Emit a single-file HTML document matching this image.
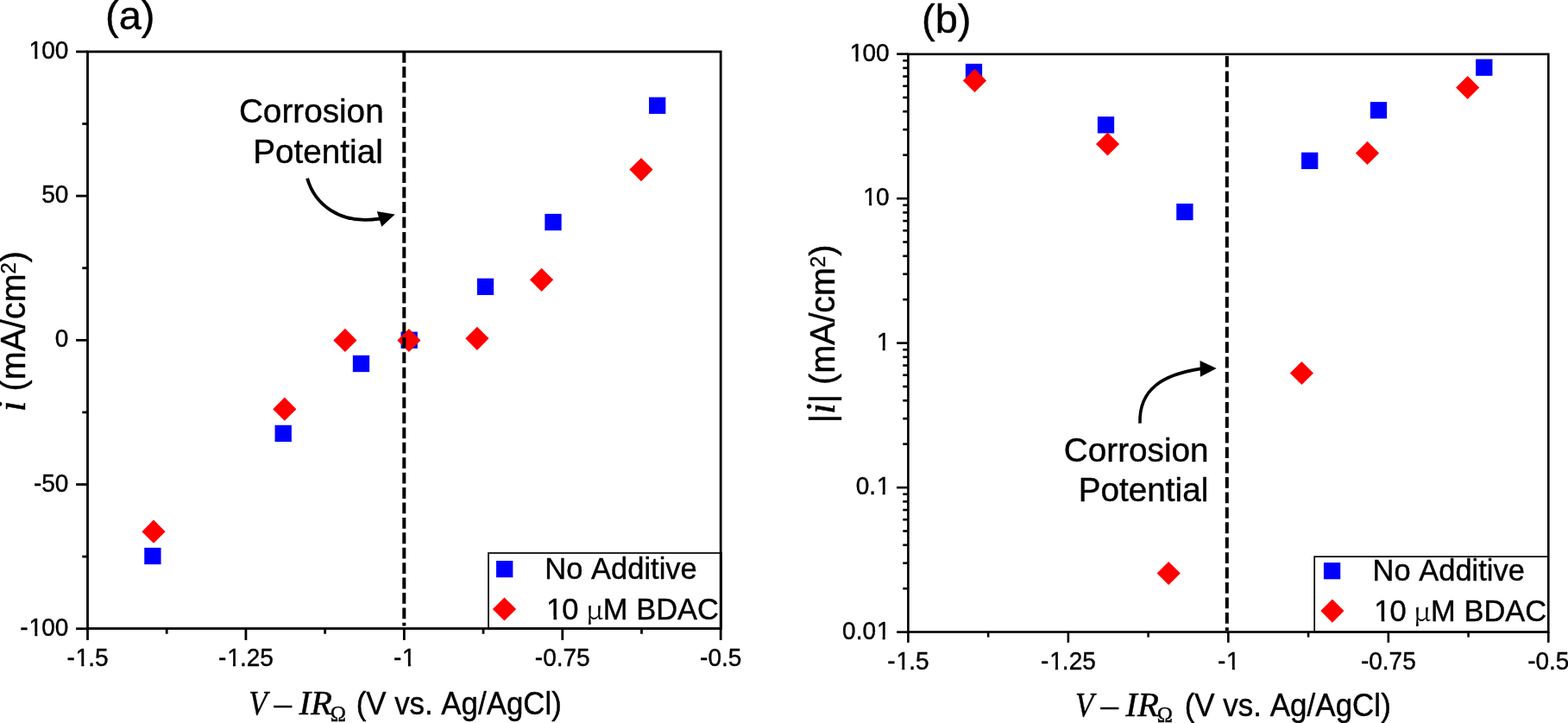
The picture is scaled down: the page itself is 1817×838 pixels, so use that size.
<!DOCTYPE html>
<html><head><meta charset="utf-8"><title>Corrosion potential plots</title><style>html,body{margin:0;padding:0;background:#fff;overflow:hidden}svg{display:block}</style></head><body>
<svg width="1817" height="838" viewBox="0 0 1817 838" style="font-kerning:none">
<style>text{stroke:#000;stroke-width:0.4;stroke-linejoin:round}</style>
<defs><clipPath id="k1" clipPathUnits="userSpaceOnUse"><path clip-rule="evenodd" d="M-400 -400H2200V400H-400Z M2.19 -3.98H9.50V1.5H2.19Z M13.04 -3.98H20.07V1.5H13.04Z"/></clipPath><clipPath id="k2" clipPathUnits="userSpaceOnUse"><path clip-rule="evenodd" d="M-400 -400H2200V400H-400Z M1.50 -3.49H7.66V1.5H1.50Z M10.63 -3.49H16.57V1.5H10.63Z"/></clipPath><clipPath id="k3" clipPathUnits="userSpaceOnUse"><path clip-rule="evenodd" d="M-400 -400H2200V400H-400Z M10.82 -3.49H16.98V1.5H10.82Z M19.96 -3.49H25.90V1.5H19.96Z"/></clipPath><clipPath id="k4" clipPathUnits="userSpaceOnUse"><path clip-rule="evenodd" d="M-400 -400H2200V400H-400Z M10.82 -3.49H16.98V1.5H10.82Z M19.96 -3.49H25.90V1.5H19.96Z"/></clipPath><clipPath id="k5" clipPathUnits="userSpaceOnUse"><path clip-rule="evenodd" d="M-400 -400H2200V400H-400Z M10.82 -3.49H16.98V1.5H10.82Z M19.96 -3.49H25.90V1.5H19.96Z"/></clipPath><clipPath id="k6" clipPathUnits="userSpaceOnUse"><path clip-rule="evenodd" d="M-400 -400H2200V400H-400Z M10.82 -3.49H16.98V1.5H10.82Z M19.96 -3.49H25.90V1.5H19.96Z"/></clipPath><clipPath id="k7" clipPathUnits="userSpaceOnUse"><path clip-rule="evenodd" d="M-400 -400H2200V400H-400Z M2.19 -3.98H9.50V1.5H2.19Z M13.04 -3.98H20.07V1.5H13.04Z"/></clipPath><clipPath id="k8" clipPathUnits="userSpaceOnUse"><path clip-rule="evenodd" d="M-400 -400H2200V400H-400Z M1.50 -3.49H7.66V1.5H1.50Z M10.63 -3.49H16.57V1.5H10.63Z"/></clipPath><clipPath id="k9" clipPathUnits="userSpaceOnUse"><path clip-rule="evenodd" d="M-400 -400H2200V400H-400Z M1.50 -3.49H7.66V1.5H1.50Z M10.63 -3.49H16.57V1.5H10.63Z"/></clipPath><clipPath id="k10" clipPathUnits="userSpaceOnUse"><path clip-rule="evenodd" d="M-400 -400H2200V400H-400Z M1.50 -3.49H7.66V1.5H1.50Z M10.63 -3.49H16.57V1.5H10.63Z"/></clipPath><clipPath id="k11" clipPathUnits="userSpaceOnUse"><path clip-rule="evenodd" d="M-400 -400H2200V400H-400Z M24.85 -3.49H31.01V1.5H24.85Z M33.98 -3.49H39.92V1.5H33.98Z"/></clipPath><clipPath id="k12" clipPathUnits="userSpaceOnUse"><path clip-rule="evenodd" d="M-400 -400H2200V400H-400Z M40.42 -3.49H46.58V1.5H40.42Z M49.56 -3.49H55.50V1.5H49.56Z"/></clipPath><clipPath id="k13" clipPathUnits="userSpaceOnUse"><path clip-rule="evenodd" d="M-400 -400H2200V400H-400Z M10.82 -3.49H16.98V1.5H10.82Z M19.96 -3.49H25.90V1.5H19.96Z"/></clipPath><clipPath id="k14" clipPathUnits="userSpaceOnUse"><path clip-rule="evenodd" d="M-400 -400H2200V400H-400Z M10.82 -3.49H16.98V1.5H10.82Z M19.96 -3.49H25.90V1.5H19.96Z"/></clipPath><clipPath id="k15" clipPathUnits="userSpaceOnUse"><path clip-rule="evenodd" d="M-400 -400H2200V400H-400Z M10.82 -3.49H16.98V1.5H10.82Z M19.96 -3.49H25.90V1.5H19.96Z"/></clipPath></defs>
<rect width="1817" height="838" fill="#fff"/>
<rect x="167.25" y="634.85" width="19.3" height="19.3" fill="#0000ff"/>
<rect x="318.55" y="492.75" width="19.3" height="19.3" fill="#0000ff"/>
<rect x="408.85" y="411.85" width="19.3" height="19.3" fill="#0000ff"/>
<rect x="464.55" y="384.55" width="19.3" height="19.3" fill="#0000ff"/>
<rect x="552.85" y="322.65" width="19.3" height="19.3" fill="#0000ff"/>
<rect x="631.35" y="247.85" width="19.3" height="19.3" fill="#0000ff"/>
<rect x="752.05" y="112.65" width="19.3" height="19.3" fill="#0000ff"/>
<path d="M178.00 602.60L191.60 616.20L178.00 629.80L164.40 616.20Z" fill="#ff0000"/>
<path d="M329.80 460.60L343.40 474.20L329.80 487.80L316.20 474.20Z" fill="#ff0000"/>
<path d="M399.90 380.80L413.50 394.40L399.90 408.00L386.30 394.40Z" fill="#ff0000"/>
<path d="M473.90 380.90L487.50 394.50L473.90 408.10L460.30 394.50Z" fill="#ff0000"/>
<path d="M552.90 378.70L566.50 392.30L552.90 405.90L539.30 392.30Z" fill="#ff0000"/>
<path d="M627.60 310.70L641.20 324.30L627.60 337.90L614.00 324.30Z" fill="#ff0000"/>
<path d="M743.00 183.00L756.60 196.60L743.00 210.20L729.40 196.60Z" fill="#ff0000"/>
<rect x="566.0" y="641.0" width="270.0" height="87.5" fill="#fff" stroke="#000" stroke-width="1.7"/>
<rect x="575.05" y="649.95" width="19.3" height="19.3" fill="#0000ff"/>
<path d="M584.50 692.40L598.10 706.00L584.50 719.60L570.90 706.00Z" fill="#ff0000"/>
<text transform="translate(631.37 670.80) scale(1 1.035)" font-family="'Liberation Sans', Arial, Helvetica, sans-serif" font-size="34.5">No Additive</text>
<text transform="translate(632.04 717.6) scale(1 1.035)" font-family="'Liberation Sans', Arial, Helvetica, sans-serif" font-size="34.5" clip-path="url(#k1)" dx="1.07 -1.07">10 </text>
<text transform="translate(678.66 717.6) scale(1.05 1)" font-family="'Noto Serif CJK SC', 'Liberation Serif', 'Times New Roman', Times, serif" font-size="31.5" style="stroke:none">&#956;</text>
<text transform="translate(698.87 717.6) scale(1 1.035)" font-family="'Liberation Sans', Arial, Helvetica, sans-serif" font-size="34.5">M BDAC</text>
<rect x="101.50" y="59.90" width="733.70" height="668.60" fill="none" stroke="#000" stroke-width="2.8"/>
<line x1="101.50" y1="728.50" x2="101.50" y2="741.90" stroke="#000" stroke-width="2.8"/>
<line x1="284.93" y1="728.50" x2="284.93" y2="741.90" stroke="#000" stroke-width="2.8"/>
<line x1="468.35" y1="728.50" x2="468.35" y2="741.90" stroke="#000" stroke-width="2.8"/>
<line x1="651.78" y1="728.50" x2="651.78" y2="741.90" stroke="#000" stroke-width="2.8"/>
<line x1="835.20" y1="728.50" x2="835.20" y2="741.90" stroke="#000" stroke-width="2.8"/>
<line x1="193.21" y1="728.50" x2="193.21" y2="734.70" stroke="#000" stroke-width="2.8"/>
<line x1="376.64" y1="728.50" x2="376.64" y2="734.70" stroke="#000" stroke-width="2.8"/>
<line x1="560.06" y1="728.50" x2="560.06" y2="734.70" stroke="#000" stroke-width="2.8"/>
<line x1="743.49" y1="728.50" x2="743.49" y2="734.70" stroke="#000" stroke-width="2.8"/>
<line x1="101.50" y1="59.90" x2="88.10" y2="59.90" stroke="#000" stroke-width="2.8"/>
<line x1="101.50" y1="227.10" x2="88.10" y2="227.10" stroke="#000" stroke-width="2.8"/>
<line x1="101.50" y1="394.30" x2="88.10" y2="394.30" stroke="#000" stroke-width="2.8"/>
<line x1="101.50" y1="561.50" x2="88.10" y2="561.50" stroke="#000" stroke-width="2.8"/>
<line x1="101.50" y1="728.70" x2="88.10" y2="728.70" stroke="#000" stroke-width="2.8"/>
<line x1="101.50" y1="143.50" x2="95.30" y2="143.50" stroke="#000" stroke-width="2.8"/>
<line x1="101.50" y1="310.70" x2="95.30" y2="310.70" stroke="#000" stroke-width="2.8"/>
<line x1="101.50" y1="477.90" x2="95.30" y2="477.90" stroke="#000" stroke-width="2.8"/>
<line x1="101.50" y1="645.10" x2="95.30" y2="645.10" stroke="#000" stroke-width="2.8"/>
<line x1="468.3" y1="59.90" x2="468.3" y2="725.6" stroke="#000" stroke-width="4" stroke-dasharray="12.8 4.62"/>
<text transform="translate(32.68 68.00) scale(1 1.035)" font-family="'Liberation Sans', Arial, Helvetica, sans-serif" font-size="28" clip-path="url(#k2)" dx="0.87 -0.87 0">100</text>
<text transform="translate(48.26 235.20) scale(1 1.035)" font-family="'Liberation Sans', Arial, Helvetica, sans-serif" font-size="28">50</text>
<text transform="translate(63.83 402.40) scale(1 1.035)" font-family="'Liberation Sans', Arial, Helvetica, sans-serif" font-size="28">0</text>
<text transform="translate(38.93 569.60) scale(1 1.035)" font-family="'Liberation Sans', Arial, Helvetica, sans-serif" font-size="28">-50</text>
<text transform="translate(23.36 736.80) scale(1 1.035)" font-family="'Liberation Sans', Arial, Helvetica, sans-serif" font-size="28" clip-path="url(#k3)" dx="0 0.87 -0.87 0">-100</text>
<text transform="translate(77.38 772.20) scale(1 1.035)" font-family="'Liberation Sans', Arial, Helvetica, sans-serif" font-size="28" clip-path="url(#k4)" dx="0 0.87 -0.87 0">-1.5</text>
<text transform="translate(253.01 772.20) scale(1 1.035)" font-family="'Liberation Sans', Arial, Helvetica, sans-serif" font-size="28" clip-path="url(#k5)" dx="0 0.87 -0.87 0 0">-1.25</text>
<text transform="translate(455.90 772.20) scale(1 1.035)" font-family="'Liberation Sans', Arial, Helvetica, sans-serif" font-size="28" clip-path="url(#k6)" dx="0 0.87">-1</text>
<text transform="translate(619.86 772.20) scale(1 1.035)" font-family="'Liberation Sans', Arial, Helvetica, sans-serif" font-size="28">-0.75</text>
<text transform="translate(811.08 772.20) scale(1 1.035)" font-family="'Liberation Sans', Arial, Helvetica, sans-serif" font-size="28">-0.5</text>
<text x="122.0" y="34.2" font-family="'Liberation Sans', Arial, Helvetica, sans-serif" font-size="47">(a)</text>
<text transform="translate(276.93 142.20) scale(1 1.02)" font-family="'Liberation Sans', Arial, Helvetica, sans-serif" font-size="38.7">Corrosion</text>
<text transform="translate(293.23 188.60) scale(1 1.02)" font-family="'Liberation Sans', Arial, Helvetica, sans-serif" font-size="38.7">Potential</text>
<path d="M356.1 206.8 C364.1 234.9, 392 261.3, 440 253.5" fill="none" stroke="#000" stroke-width="3.8"/>
<path d="M436.8 245.0 L457.7 248.4 L442.3 262.7 Z" fill="#000"/>
<text transform="translate(288.17 828.3) scale(0.86 1)" font-family="'Liberation Serif', 'Times New Roman', Times, serif" font-size="40.8" font-style="italic">V</text>
<text y="828.3" font-family="'Liberation Serif', 'Times New Roman', Times, serif" font-size="40.8"><tspan x="317.48">&#8211;</tspan><tspan x="346.46" font-style="italic">IR</tspan><tspan x="382.73" y="835.8" font-size="24.5">&#937;</tspan></text>
<text transform="translate(412.64 828.3) scale(1 1.035)" font-family="'Liberation Sans', Arial, Helvetica, sans-serif" font-size="34.85">(V vs. Ag/AgCl)</text>
<g transform="translate(29.40 477.16) rotate(-90) scale(1 1.035)">
<text x="0" y="0"><tspan font-family="'Liberation Serif', 'Times New Roman', Times, serif" font-style="italic" font-size="46">i</tspan><tspan font-family="'Liberation Sans', Arial, Helvetica, sans-serif" font-size="39.5"> (mA/cm</tspan><tspan font-family="'Liberation Sans', Arial, Helvetica, sans-serif" font-size="23.7" dy="-10.8">2</tspan><tspan font-family="'Liberation Sans', Arial, Helvetica, sans-serif" font-size="39.5" dy="10.8">)</tspan></text>
</g>
<rect x="1118.85" y="73.85" width="19.3" height="19.3" fill="#0000ff"/>
<rect x="1271.85" y="135.15" width="19.3" height="19.3" fill="#0000ff"/>
<rect x="1363.25" y="235.95" width="19.3" height="19.3" fill="#0000ff"/>
<rect x="1508.05" y="176.65" width="19.3" height="19.3" fill="#0000ff"/>
<rect x="1587.85" y="118.15" width="19.3" height="19.3" fill="#0000ff"/>
<rect x="1710.15" y="68.55" width="19.3" height="19.3" fill="#0000ff"/>
<path d="M1129.50 79.80L1143.10 93.40L1129.50 107.00L1115.90 93.40Z" fill="#ff0000"/>
<path d="M1283.50 153.40L1297.10 167.00L1283.50 180.60L1269.90 167.00Z" fill="#ff0000"/>
<path d="M1354.20 650.90L1367.80 664.50L1354.20 678.10L1340.60 664.50Z" fill="#ff0000"/>
<path d="M1508.40 418.90L1522.00 432.50L1508.40 446.10L1494.80 432.50Z" fill="#ff0000"/>
<path d="M1584.50 163.80L1598.10 177.40L1584.50 191.00L1570.90 177.40Z" fill="#ff0000"/>
<path d="M1700.70 87.90L1714.30 101.50L1700.70 115.10L1687.10 101.50Z" fill="#ff0000"/>
<rect x="1523.2" y="645.2" width="270.6" height="87.3" fill="#fff" stroke="#000" stroke-width="1.7"/>
<rect x="1533.95" y="652.05" width="19.3" height="19.3" fill="#0000ff"/>
<path d="M1543.90 694.50L1557.50 708.10L1543.90 721.70L1530.30 708.10Z" fill="#ff0000"/>
<text transform="translate(1590.57 673.30) scale(1 1.035)" font-family="'Liberation Sans', Arial, Helvetica, sans-serif" font-size="34.5">No Additive</text>
<text transform="translate(1591.24 720.2) scale(1 1.035)" font-family="'Liberation Sans', Arial, Helvetica, sans-serif" font-size="34.5" clip-path="url(#k7)" dx="1.07 -1.07">10 </text>
<text transform="translate(1637.86 720.2) scale(1.05 1)" font-family="'Noto Serif CJK SC', 'Liberation Serif', 'Times New Roman', Times, serif" font-size="31.5" style="stroke:none">&#956;</text>
<text transform="translate(1658.07 720.2) scale(1 1.035)" font-family="'Liberation Sans', Arial, Helvetica, sans-serif" font-size="34.5">M BDAC</text>
<rect x="1052.40" y="62.80" width="741.90" height="669.70" fill="none" stroke="#000" stroke-width="2.6"/>
<line x1="1052.40" y1="732.50" x2="1052.40" y2="744.80" stroke="#000" stroke-width="2.6"/>
<line x1="1237.88" y1="732.50" x2="1237.88" y2="744.80" stroke="#000" stroke-width="2.6"/>
<line x1="1423.35" y1="732.50" x2="1423.35" y2="744.80" stroke="#000" stroke-width="2.6"/>
<line x1="1608.83" y1="732.50" x2="1608.83" y2="744.80" stroke="#000" stroke-width="2.6"/>
<line x1="1794.30" y1="732.50" x2="1794.30" y2="744.80" stroke="#000" stroke-width="2.6"/>
<line x1="1145.14" y1="732.50" x2="1145.14" y2="738.60" stroke="#000" stroke-width="2.6"/>
<line x1="1330.61" y1="732.50" x2="1330.61" y2="738.60" stroke="#000" stroke-width="2.6"/>
<line x1="1516.09" y1="732.50" x2="1516.09" y2="738.60" stroke="#000" stroke-width="2.6"/>
<line x1="1701.56" y1="732.50" x2="1701.56" y2="738.60" stroke="#000" stroke-width="2.6"/>
<line x1="1052.40" y1="62.60" x2="1039.10" y2="62.60" stroke="#000" stroke-width="2.6"/>
<line x1="1052.40" y1="230.10" x2="1039.10" y2="230.10" stroke="#000" stroke-width="2.6"/>
<line x1="1052.40" y1="397.60" x2="1039.10" y2="397.60" stroke="#000" stroke-width="2.6"/>
<line x1="1052.40" y1="565.10" x2="1039.10" y2="565.10" stroke="#000" stroke-width="2.6"/>
<line x1="1052.40" y1="732.60" x2="1039.10" y2="732.60" stroke="#000" stroke-width="2.6"/>
<line x1="1052.40" y1="682.18" x2="1046.30" y2="682.18" stroke="#000" stroke-width="2.6"/>
<line x1="1052.40" y1="652.68" x2="1046.30" y2="652.68" stroke="#000" stroke-width="2.6"/>
<line x1="1052.40" y1="631.75" x2="1046.30" y2="631.75" stroke="#000" stroke-width="2.6"/>
<line x1="1052.40" y1="615.52" x2="1046.30" y2="615.52" stroke="#000" stroke-width="2.6"/>
<line x1="1052.40" y1="602.26" x2="1046.30" y2="602.26" stroke="#000" stroke-width="2.6"/>
<line x1="1052.40" y1="591.05" x2="1046.30" y2="591.05" stroke="#000" stroke-width="2.6"/>
<line x1="1052.40" y1="581.33" x2="1046.30" y2="581.33" stroke="#000" stroke-width="2.6"/>
<line x1="1052.40" y1="572.76" x2="1046.30" y2="572.76" stroke="#000" stroke-width="2.6"/>
<line x1="1052.40" y1="514.68" x2="1046.30" y2="514.68" stroke="#000" stroke-width="2.6"/>
<line x1="1052.40" y1="485.18" x2="1046.30" y2="485.18" stroke="#000" stroke-width="2.6"/>
<line x1="1052.40" y1="464.25" x2="1046.30" y2="464.25" stroke="#000" stroke-width="2.6"/>
<line x1="1052.40" y1="448.02" x2="1046.30" y2="448.02" stroke="#000" stroke-width="2.6"/>
<line x1="1052.40" y1="434.76" x2="1046.30" y2="434.76" stroke="#000" stroke-width="2.6"/>
<line x1="1052.40" y1="423.55" x2="1046.30" y2="423.55" stroke="#000" stroke-width="2.6"/>
<line x1="1052.40" y1="413.83" x2="1046.30" y2="413.83" stroke="#000" stroke-width="2.6"/>
<line x1="1052.40" y1="405.26" x2="1046.30" y2="405.26" stroke="#000" stroke-width="2.6"/>
<line x1="1052.40" y1="347.18" x2="1046.30" y2="347.18" stroke="#000" stroke-width="2.6"/>
<line x1="1052.40" y1="317.68" x2="1046.30" y2="317.68" stroke="#000" stroke-width="2.6"/>
<line x1="1052.40" y1="296.75" x2="1046.30" y2="296.75" stroke="#000" stroke-width="2.6"/>
<line x1="1052.40" y1="280.52" x2="1046.30" y2="280.52" stroke="#000" stroke-width="2.6"/>
<line x1="1052.40" y1="267.26" x2="1046.30" y2="267.26" stroke="#000" stroke-width="2.6"/>
<line x1="1052.40" y1="256.05" x2="1046.30" y2="256.05" stroke="#000" stroke-width="2.6"/>
<line x1="1052.40" y1="246.33" x2="1046.30" y2="246.33" stroke="#000" stroke-width="2.6"/>
<line x1="1052.40" y1="237.76" x2="1046.30" y2="237.76" stroke="#000" stroke-width="2.6"/>
<line x1="1052.40" y1="179.68" x2="1046.30" y2="179.68" stroke="#000" stroke-width="2.6"/>
<line x1="1052.40" y1="150.18" x2="1046.30" y2="150.18" stroke="#000" stroke-width="2.6"/>
<line x1="1052.40" y1="129.25" x2="1046.30" y2="129.25" stroke="#000" stroke-width="2.6"/>
<line x1="1052.40" y1="113.02" x2="1046.30" y2="113.02" stroke="#000" stroke-width="2.6"/>
<line x1="1052.40" y1="99.76" x2="1046.30" y2="99.76" stroke="#000" stroke-width="2.6"/>
<line x1="1052.40" y1="88.55" x2="1046.30" y2="88.55" stroke="#000" stroke-width="2.6"/>
<line x1="1052.40" y1="78.83" x2="1046.30" y2="78.83" stroke="#000" stroke-width="2.6"/>
<line x1="1052.40" y1="70.26" x2="1046.30" y2="70.26" stroke="#000" stroke-width="2.6"/>
<line x1="1421.8" y1="65.0" x2="1421.8" y2="731.0" stroke="#000" stroke-width="4" stroke-dasharray="12.8 4.63"/>
<text transform="translate(983.88 70.90) scale(1 1.035)" font-family="'Liberation Sans', Arial, Helvetica, sans-serif" font-size="28" clip-path="url(#k8)" dx="0.87 -0.87 0">100</text>
<text transform="translate(999.46 238.40) scale(1 1.035)" font-family="'Liberation Sans', Arial, Helvetica, sans-serif" font-size="28" clip-path="url(#k9)" dx="0.87 -0.87">10</text>
<text transform="translate(1015.03 405.90) scale(1 1.035)" font-family="'Liberation Sans', Arial, Helvetica, sans-serif" font-size="28" clip-path="url(#k10)" dx="0.87">1</text>
<text transform="translate(991.68 573.40) scale(1 1.035)" font-family="'Liberation Sans', Arial, Helvetica, sans-serif" font-size="28" clip-path="url(#k11)" dx="0 0 0.87">0.1</text>
<text transform="translate(976.10 740.90) scale(1 1.035)" font-family="'Liberation Sans', Arial, Helvetica, sans-serif" font-size="28" clip-path="url(#k12)" dx="0 0 0 0.87">0.01</text>
<text transform="translate(1028.28 775.60) scale(1 1.035)" font-family="'Liberation Sans', Arial, Helvetica, sans-serif" font-size="28" clip-path="url(#k13)" dx="0 0.87 -0.87 0">-1.5</text>
<text transform="translate(1205.96 775.60) scale(1 1.035)" font-family="'Liberation Sans', Arial, Helvetica, sans-serif" font-size="28" clip-path="url(#k14)" dx="0 0.87 -0.87 0 0">-1.25</text>
<text transform="translate(1410.90 775.60) scale(1 1.035)" font-family="'Liberation Sans', Arial, Helvetica, sans-serif" font-size="28" clip-path="url(#k15)" dx="0 0.87">-1</text>
<text transform="translate(1576.91 775.60) scale(1 1.035)" font-family="'Liberation Sans', Arial, Helvetica, sans-serif" font-size="28">-0.75</text>
<text transform="translate(1770.18 775.60) scale(1 1.035)" font-family="'Liberation Sans', Arial, Helvetica, sans-serif" font-size="28">-0.5</text>
<text x="1068.0" y="37.5" font-family="'Liberation Sans', Arial, Helvetica, sans-serif" font-size="47">(b)</text>
<text transform="translate(1232.83 534.80) scale(1 1.02)" font-family="'Liberation Sans', Arial, Helvetica, sans-serif" font-size="38.7">Corrosion</text>
<text transform="translate(1249.73 580.90) scale(1 1.02)" font-family="'Liberation Sans', Arial, Helvetica, sans-serif" font-size="38.7">Potential</text>
<path d="M1321.0 490.6 C1319.7 451.3, 1346.8 434.2, 1391.5 427.4" fill="none" stroke="#000" stroke-width="3.6"/>
<path d="M1390.5 417.9 L1409.7 427.1 L1390.9 436.7 Z" fill="#000"/>
<text transform="translate(1246.07 830.3) scale(0.86 1)" font-family="'Liberation Serif', 'Times New Roman', Times, serif" font-size="40.8" font-style="italic">V</text>
<text y="830.3" font-family="'Liberation Serif', 'Times New Roman', Times, serif" font-size="40.8"><tspan x="1275.38">&#8211;</tspan><tspan x="1304.36" font-style="italic">IR</tspan><tspan x="1340.63" y="837.4" font-size="24.5">&#937;</tspan></text>
<text transform="translate(1372.63 830.3) scale(1 1.035)" font-family="'Liberation Sans', Arial, Helvetica, sans-serif" font-size="35.0">(V vs. Ag/AgCl)</text>
<g transform="translate(967.00 490.30) rotate(-90) scale(1 1.035)">
<text x="0" y="0"><tspan font-family="'Liberation Sans', Arial, Helvetica, sans-serif" font-size="39.5">|</tspan><tspan font-family="'Liberation Serif', 'Times New Roman', Times, serif" font-style="italic" font-size="46">i</tspan><tspan font-family="'Liberation Sans', Arial, Helvetica, sans-serif" font-size="39.5">|</tspan><tspan font-family="'Liberation Sans', Arial, Helvetica, sans-serif" font-size="39.5"> (mA/cm</tspan><tspan font-family="'Liberation Sans', Arial, Helvetica, sans-serif" font-size="23.7" dy="-10.8">2</tspan><tspan font-family="'Liberation Sans', Arial, Helvetica, sans-serif" font-size="39.5" dy="10.8">)</tspan></text>
</g>
</svg>
</body></html>
